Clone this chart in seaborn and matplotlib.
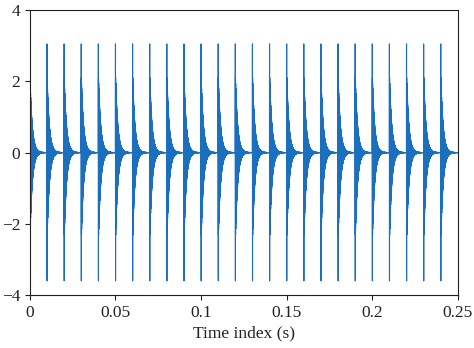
import numpy as np
import pandas as pd
import seaborn as sns
import matplotlib
matplotlib.use("Agg")
import matplotlib.pyplot as plt

# --- data ---
impulse_times = [round(0.01 * i, 2) for i in range(25)]   # 0.00 ... 0.24 s
spike_high = [3.05] * 25       # single-sample positive spike per impulse
spike_low = [-3.6] * 25        # single-sample negative spike per impulse
ring_high = [2.1] * 25         # start of upper ringing envelope
ring_low = [-2.4] * 25         # start of lower ringing envelope
decay_tau = 0.0013             # ringing decay time constant (s)
fs = 20000                     # sampling rate (Hz)
t_end = 0.25

sns.set_theme(style="ticks")
plt.rcParams['font.family'] = ['Liberation Serif', 'DejaVu Serif']

n = int(round(t_end * fs)) + 1
t = np.arange(n) / fs
x = np.zeros(n)
for ti, sh, sl, rh, rl in zip(impulse_times, spike_high, spike_low, ring_high, ring_low):
    k0 = int(round(ti * fs))
    m = n - k0
    idx = np.arange(m)
    dt = np.clip(idx - 2, 0, None) / fs
    env = np.exp(-dt / decay_tau)
    seg = np.where(idx % 2 == 0, rh * env, rl * env)
    seg[0] = sh
    if m > 1:
        seg[1] = sl
    x[k0:] += seg

df = pd.DataFrame({"t": t, "x": x})

fig = plt.figure(figsize=(4.74, 3.48), dpi=100)
ax = fig.add_axes([0.063, 0.152, 0.903, 0.819])
sns.lineplot(data=df, x="t", y="x", ax=ax, color="#1a6fbf", linewidth=0.8)
ax.set_xlim(0, 0.25)
ax.set_ylim(-4, 4)
ax.set_xticks([0, 0.05, 0.1, 0.15, 0.2, 0.25])
ax.set_xticklabels(["0", "0.05", "0.1", "0.15", "0.2", "0.25"])
ax.set_yticks([-4, -2, 0, 2, 4])
ax.set_yticklabels(["\u22124", "\u22122", "0", "2", "4"])
ax.tick_params(labelsize=12.5, length=3.5, width=0.8, colors="#222222")
ax.set_xlabel("Time index (s)", fontsize=12.5, color="#222222", labelpad=3)
ax.set_ylabel("")
for s in ax.spines.values():
    s.set_linewidth(0.8)
    s.set_color("#222222")
fig.savefig("out.png", dpi=100)
